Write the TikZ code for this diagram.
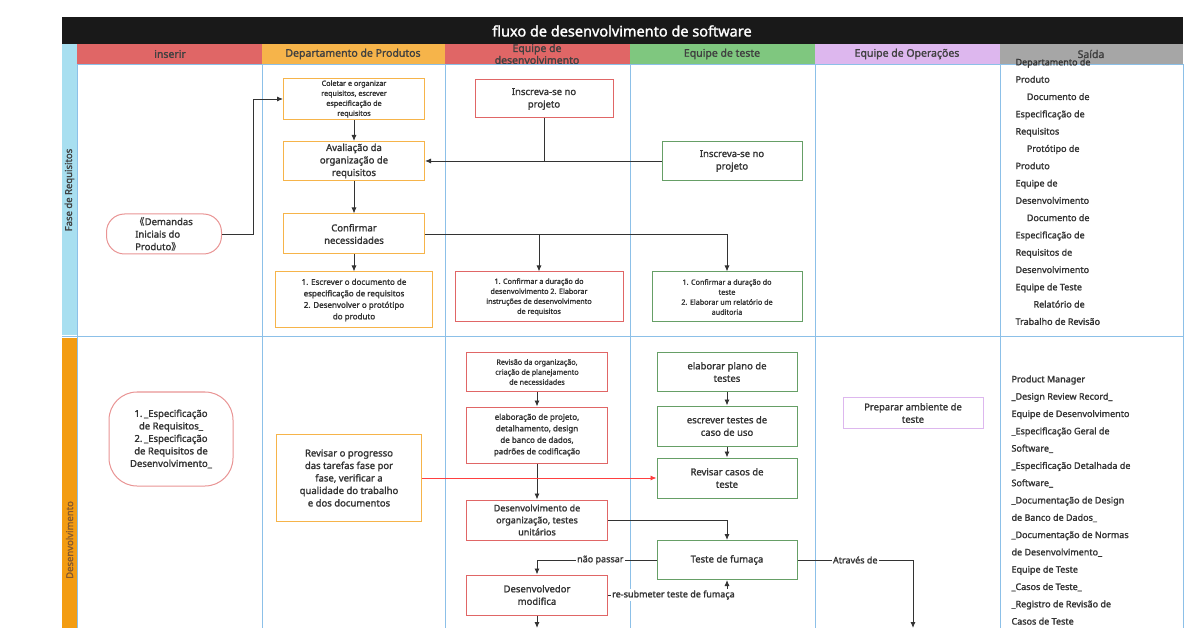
\documentclass[tikz,border=0pt]{standalone}
\usepackage{fontspec}
\setmainfont{Noto Sans}[AutoFakeBold=1.6]
\newfontfamily\cjkfont{Noto Sans CJK SC}
\usetikzlibrary{arrows.meta}
\definecolor{redlane}{HTML}{E06666}
\definecolor{orglane}{HTML}{F6B44A}
\definecolor{grnlane}{HTML}{7FC77F}
\definecolor{lillane}{HTML}{DDB7EE}
\definecolor{gralane}{HTML}{A6A6A6}
\definecolor{bluline}{HTML}{8CC0E8}
\definecolor{cyastrip}{HTML}{A8DFF0}
\definecolor{orastrip}{HTML}{F39C12}
\tikzset{
  box/.style={draw, line width=1pt, fill=white, align=center, text=black!80,
    font=\fontsize{9.5}{12.5}\selectfont\bfseries, inner sep=2pt},
  small/.style={font=\fontsize{7.2}{10}\selectfont\bfseries},
  prod/.style={box, draw=orglane},
  dev/.style={box, draw=redlane},
  tst/.style={box, draw=grnlane!80!black},
  ops/.style={box, draw=lillane},
  flow/.style={draw=black!80, line width=0.9pt, -{Latex[length=6pt,width=5pt]}},
  lbl/.style={fill=white, inner sep=1pt, text=black!80, font=\fontsize{9}{11}\selectfont\bfseries},
  hdr/.style={text=black!75, font=\fontsize{10.5}{12}\selectfont\bfseries},
  outtxt/.style={text=black!80, anchor=north west, align=left, font=\fontsize{9}{17.3}\selectfont\bfseries}
}
\begin{document}
\begin{tikzpicture}[x=1pt,y=-1pt]
\useasboundingbox (0,0) rectangle (1200,628);
% lanes
\fill[black!90] (62,17) rectangle (1183,44);
\node[text=white, font=\fontsize{14.5}{16}\selectfont\bfseries] (title) at (622,31) {fluxo de desenvolvimento de software};
\fill[redlane] (77,44) rectangle (262,64);
\fill[orglane] (262,44) rectangle (445,64);
\fill[redlane] (445,44) rectangle (630,64);
\fill[grnlane] (630,44) rectangle (815,64);
\fill[lillane] (815,44) rectangle (1000,64);
\fill[gralane] (1000,44) rectangle (1183,64);
\fill[cyastrip] (62,44) rectangle (77,335);
\fill[orastrip] (62,338) rectangle (77,628);
\node[hdr] (h1) at (170,54) {inserir};
\node[hdr] (h2) at (353,54) {Departamento de Produtos};
\node[hdr, align=center] (h3) at (537,54) {Equipe de\\desenvolvimento};
\node[hdr] (h4) at (722,54) {Equipe de teste};
\node[hdr] (h5) at (907,54) {Equipe de Operações};
\node[hdr] (h6) at (1091,54) {Saída};
\node[hdr, rotate=90, font=\fontsize{9.5}{11}\selectfont\bfseries] (p1) at (69.5,190) {Fase de Requisitos};
\node[hdr, rotate=90, text=brown!70!black, font=\fontsize{9.5}{11}\selectfont\bfseries] (p2) at (69.5,540) {Desenvolvimento};
\foreach \x in {77,262,445,630,815,1000,1183}
  \draw[bluline, line width=0.8pt] (\x,64) -- (\x,628);
\draw[bluline, line width=0.8pt] (77,64) -- (1183,64);
\draw[bluline, line width=0.8pt] (62,336) -- (1183,336);
% phase 1
\node[prod, small, minimum width=141pt, minimum height=38pt] (coletar) at (354,99) {Coletar e organizar\\requisitos, escrever\\especificação de\\requisitos};
\node[prod, minimum width=141pt, minimum height=39pt] (avaliar) at (354,161) {Avaliação da\\organização de\\requisitos};
\node[prod, minimum width=141pt, minimum height=40pt] (confirmar) at (354,234) {Confirmar\\necessidades};
\node[prod, font=\fontsize{8}{11.5}\selectfont\bfseries, minimum width=157pt, minimum height=56pt] (escrever) at (354,300) {1. Escrever o documento de\\especificação de requisitos\\2. Desenvolver o protótipo\\do produto};
\node[dev, draw=redlane!70, rounded corners=18pt, minimum width=115pt, minimum height=40pt, align=left] (demandas) at (164,234) {{\cjkfont 《}Demandas\\Iniciais do\\Produto{\cjkfont 》}};
\node[dev, minimum width=138pt, minimum height=38pt] (inscdev) at (544,99) {Inscreva-se no\\projeto};
\node[dev, small, minimum width=168pt, minimum height=50pt] (duracdev) at (539,297) {1. Confirmar a duração do\\desenvolvimento 2. Elaborar\\instruções de desenvolvimento\\de requisitos};
\node[tst, minimum width=140pt, minimum height=39pt] (insctst) at (732,161) {Inscreva-se no\\projeto};
\node[tst, small, minimum width=150pt, minimum height=50pt] (durachst) at (727,297) {1. Confirmar a duração do\\teste\\2. Elaborar um relatório de\\auditoria};
\node[outtxt] (saida1) at (1012,55) {Departamento de\\Produto\\\quad\ Documento de\\Especificação de\\Requisitos\\\quad\ Protótipo de\\Produto\\Equipe de\\Desenvolvimento\\\quad\ Documento de\\Especificação de\\Requisitos de\\Desenvolvimento\\Equipe de Teste\\\quad\quad Relatório de\\Trabalho de Revisão};
\draw[flow] (demandas.east) -- (253,234) |- (coletar.west);
\draw[flow] (coletar) -- (avaliar);
\draw[flow] (avaliar) -- (confirmar);
\draw[flow] (confirmar) -- (escrever);
\draw[flow] (insctst.west) -- (avaliar.east);
\draw[draw=black!80, line width=0.9pt] (inscdev.south) -- (544,161);
\draw[flow] (confirmar.east) -| (durachst.north);
\draw[flow] (539,234) -- (duracdev.north);
% phase 2
\node[dev, draw=redlane!70, rounded corners=28pt, minimum width=124pt, minimum height=94pt] (espec) at (171,439) {1.\,\_Especificação\\de Requisitos\_\\2.\,\_Especificação\\de Requisitos de\\Desenvolvimento\_};
\node[prod, minimum width=145pt, minimum height=87pt] (revisar) at (349,478) {Revisar o progresso\\das tarefas fase por\\fase, verificar a\\qualidade do trabalho\\e dos documentos};
\node[dev, small, minimum width=141pt, minimum height=39pt] (revorg) at (537,372) {Revisão da organização,\\criação de planejamento\\de necessidades};
\node[dev, font=\fontsize{8}{11.5}\selectfont\bfseries, minimum width=141pt, minimum height=56pt] (elabor) at (537,435) {elaboração de projeto,\\detalhamento, design\\de banco de dados,\\padrões de codificação};
\node[dev, minimum width=141pt, minimum height=40pt, font=\fontsize{9}{12}\selectfont\bfseries] (desorg) at (537,520) {Desenvolvimento de\\organização, testes\\unitários};
\node[dev, minimum width=141pt, minimum height=40pt] (modif) at (537,595) {Desenvolvedor\\modifica};
\node[tst, minimum width=140pt, minimum height=39pt] (plano) at (727,372) {elaborar plano de\\testes};
\node[tst, minimum width=140pt, minimum height=40pt] (casos) at (727,426) {escrever testes de\\caso de uso};
\node[tst, minimum width=140pt, minimum height=40pt] (revcasos) at (727,478) {Revisar casos de\\teste};
\node[tst, minimum width=140pt, minimum height=39pt] (fumaca) at (727,560) {Teste de fumaça};
\node[ops, minimum width=140pt, minimum height=31pt] (ambiente) at (913,413) {Preparar ambiente de\\teste};
\node[outtxt] (saida2) at (1008,372) {Product Manager\\\_Design Review Record\_\\Equipe de Desenvolvimento\\\_Especificação Geral de\\Software\_\\\_Especificação Detalhada de\\Software\_\\\_Documentação de Design\\de Banco de Dados\_\\\_Documentação de Normas\\de Desenvolvimento\_\\Equipe de Teste\\\_Casos de Teste\_\\\_Registro de Revisão de\\Casos de Teste};
\coordinate (modout) at (537,628);
\coordinate (fumout) at (913,628);
\draw[flow] (revorg) -- (elabor);
\draw[flow] (elabor) -- (desorg);
\draw[flow] (desorg.east) -| (fumaca.north);
\draw[flow] (plano) -- (casos);
\draw[flow] (casos) -- (revcasos);
\draw[flow, draw=red!75] (revisar.east) -- (revcasos.west);
\draw[flow] (fumaca.west) -- node[lbl, pos=0.47] {não passar} (537,560) -- (modif.north);
\draw[flow] (modif.east) -- (727,595) node[lbl, pos=0.55] {re-submeter teste de fumaça} -- (fumaca.south);
\draw[flow] (fumaca.east) -- node[lbl] {Através de} (913,560) -- (fumout);
\draw[flow] (modif.south) -- (modout);
\end{tikzpicture}
\end{document}
